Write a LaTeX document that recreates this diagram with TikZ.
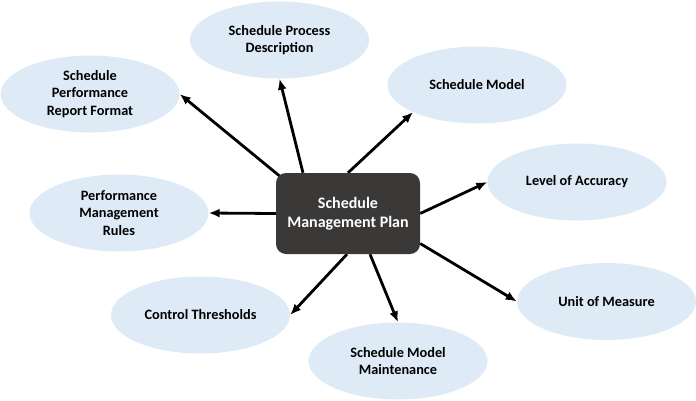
\documentclass[tikz,border=0pt]{standalone}
\usepackage{fontspec}
\setmainfont{Carlito}
\usetikzlibrary{shapes.geometric,arrows.meta,backgrounds}
\definecolor{ellfill}{RGB}{222,235,247}
\definecolor{boxfill}{RGB}{59,56,56}
\begin{document}
\begin{tikzpicture}[x=1pt,y=-1pt,
  leaf/.style={ellipse,fill=ellfill,inner sep=0pt,minimum width=179pt,minimum height=77pt,
    align=center,font=\bfseries\fontsize{14.3}{17.3}\selectfont},
  hub/.style={rectangle,rounded corners=10pt,fill=boxfill,text=white,inner sep=0pt,
    minimum width=144pt,minimum height=81pt,align=center,font=\bfseries\fontsize{16}{19.5}\selectfont},
  conn/.style={line width=2.8pt,-{Latex[length=11pt,width=9pt]}}]
\useasboundingbox (0,0) rectangle (696,400);
\node[hub] (hub) at (348,213.5) {Schedule\\Management Plan};
\node[leaf] (sprf) at (90,94) {Schedule\\Performance\\Report Format};
\node[leaf] (spd) at (279.5,40) {Schedule Process\\Description};
\node[leaf] (sm) at (477,85) {Schedule Model};
\node[leaf] (loa) at (577,182) {Level of Accuracy};
\node[leaf] (pmr) at (119,213) {Performance\\Management\\Rules};
\node[leaf] (uom) at (606.5,301.5) {Unit of Measure};
\node[leaf] (ct) at (200.5,315) {Control Thresholds};
\node[leaf] (smm) at (398,361) {Schedule Model\\Maintenance};
\begin{scope}[on background layer]
\draw[conn] ([xshift=6pt,yshift=-5pt]hub.north west) -- (sprf.east);
\draw[conn] ([xshift=-45pt]hub.north) -- (spd.south);
\draw[conn] (hub.north) -- (sm.203.6);
\draw[conn] (hub.east) -- (loa.west);
\draw[conn] ([yshift=-30pt]hub.east) -- (uom.west);
\draw[conn] ([xshift=22pt]hub.south) -- (smm.north);
\draw[conn] ([xshift=-1pt]hub.south) -- (ct.east);
\draw[conn] (hub.west) -- (pmr.east);
\end{scope}
\end{tikzpicture}
\end{document}
